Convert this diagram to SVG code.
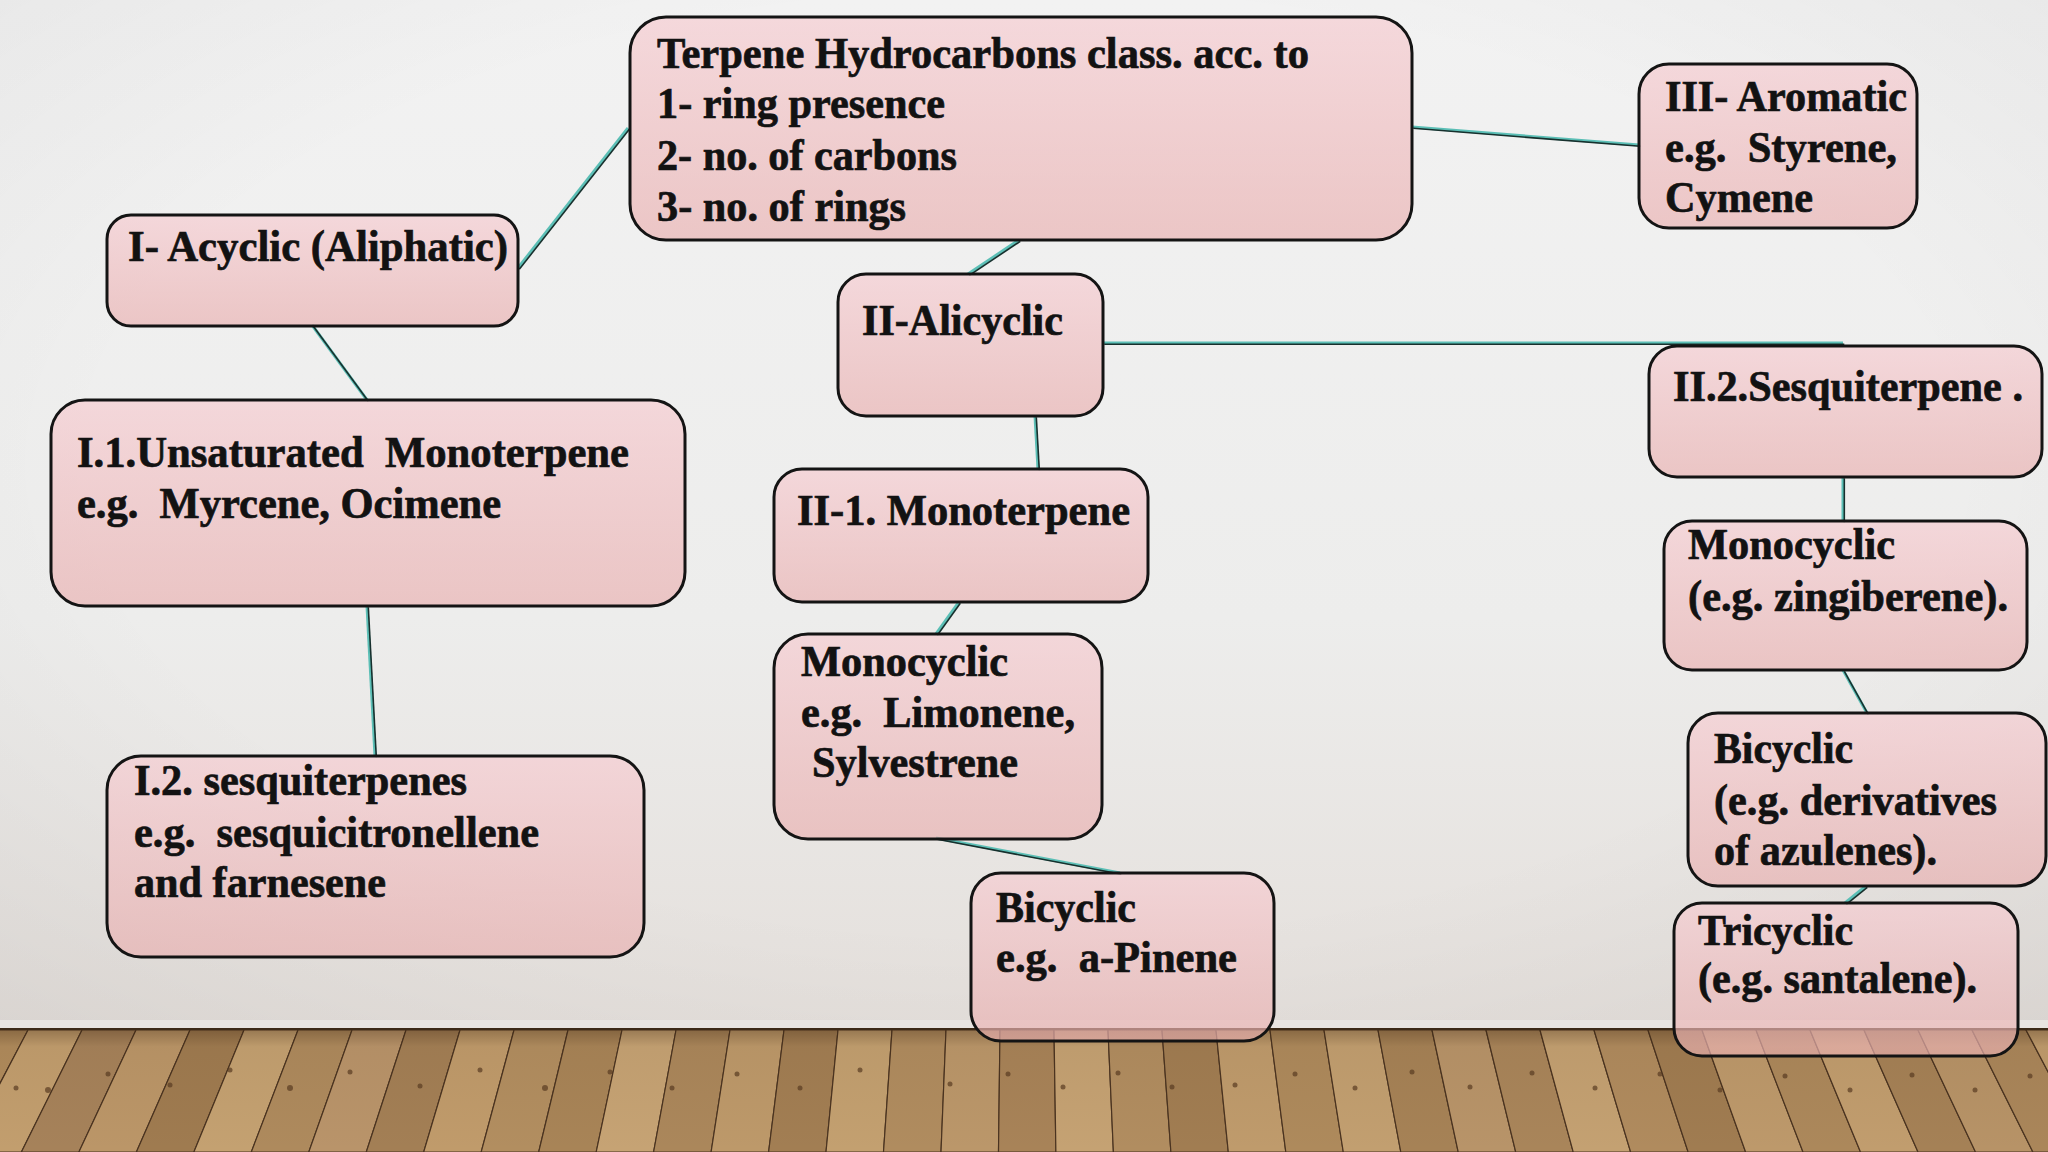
<svg xmlns="http://www.w3.org/2000/svg" xmlns:xlink="http://www.w3.org/1999/xlink" width="2048" height="1152" viewBox="0 0 2048 1152">
<defs>
<linearGradient id="wall" x1="0" y1="0" x2="0" y2="1">
<stop offset="0" stop-color="#f2f2f2"/>
<stop offset="0.6" stop-color="#ededec"/>
<stop offset="1" stop-color="#e4dfdb"/>
</linearGradient>
<radialGradient id="vign" cx="0.5" cy="0.45" r="0.75">
<stop offset="0.6" stop-color="#000" stop-opacity="0"/>
<stop offset="1" stop-color="#000" stop-opacity="0.05"/>
</radialGradient>
<linearGradient id="boxfill" x1="0" y1="0" x2="0" y2="1">
<stop offset="0" stop-color="#f6ccd1" stop-opacity="0.68"/>
<stop offset="1" stop-color="#e9b0b0" stop-opacity="0.66"/>
</linearGradient>
<linearGradient id="floorshade" x1="0" y1="0" x2="0" y2="1">
<stop offset="0" stop-color="#3a2410" stop-opacity="0.35"/>
<stop offset="0.15" stop-color="#3a2410" stop-opacity="0.05"/>
<stop offset="1" stop-color="#3a2410" stop-opacity="0"/>
</linearGradient>
<path id="c1" d="M628,128 L518,268"/>
<path id="c2" d="M1412,127 L1639,145"/>
<path id="c3" d="M1019,240 L968,274"/>
<path id="c4" d="M312,325 L367,400"/>
<path id="c5" d="M367,606 L375,756"/>
<path id="c6" d="M1035,416 L1038,469"/>
<path id="c7" d="M1103,343 L1843,343"/>
<path id="c8" d="M959,602 L936,634"/>
<path id="c9" d="M936,838 L1120,873"/>
<path id="c10" d="M1843,477 L1843,521"/>
<path id="c11" d="M1843,670 L1867,713"/>
<path id="c12" d="M1866,886 L1845,903"/>
</defs>
<style>
.box{fill:url(#boxfill);stroke:#141414;stroke-width:3}
.t{font-family:"Liberation Serif","Times New Roman",serif;font-weight:bold;font-size:44px;fill:#121212;stroke:#121212;stroke-width:0.7;white-space:pre}
.teal{fill:none;stroke:#5cbfb6;stroke-width:3}
.dark{fill:none;stroke:#17302d;stroke-width:1.6}
.plank{stroke:#4a3320;stroke-width:1.2}
.knot{fill:#5a3c22;opacity:0.7}
</style>

<!-- background wall -->
<rect x="0" y="0" width="2048" height="1030" fill="url(#wall)"/>
<rect x="0" y="0" width="2048" height="1030" fill="url(#vign)"/>
<rect x="0" y="1020" width="2048" height="8" fill="#e8e4e1"/>

<!-- floor -->
<g id="floor">
<rect x="0" y="1028" width="2048" height="124" fill="#ad8a5e"/>
<polygon class="plank" fill="#b08b5c" points="-26,1030 28,1030 -36,1152 -93.5,1152"/>
<polygon class="plank" fill="#c29e6e" points="28,1030 82,1030 21.4,1152 -36,1152"/>
<polygon class="plank" fill="#a6825a" points="82,1030 136,1030 78.9,1152 21.4,1152"/>
<polygon class="plank" fill="#bb9668" points="136,1030 190,1030 136.4,1152 78.9,1152"/>
<polygon class="plank" fill="#9f7b50" points="190,1030 244,1030 193.9,1152 136.4,1152"/>
<polygon class="plank" fill="#c4a171" points="244,1030 298,1030 251.3,1152 193.9,1152"/>
<polygon class="plank" fill="#ae8a5d" points="298,1030 352,1030 308.8,1152 251.3,1152"/>
<polygon class="plank" fill="#b9946a" points="352,1030 406,1030 366.3,1152 308.8,1152"/>
<polygon class="plank" fill="#a37f55" points="406,1030 460,1030 423.7,1152 366.3,1152"/>
<polygon class="plank" fill="#c09b6b" points="460,1030 514,1030 481.2,1152 423.7,1152"/>
<polygon class="plank" fill="#b28e60" points="514,1030 568,1030 538.7,1152 481.2,1152"/>
<polygon class="plank" fill="#a88457" points="568,1030 622,1030 596.2,1152 538.7,1152"/>
<polygon class="plank" fill="#c6a374" points="622,1030 676,1030 653.6,1152 596.2,1152"/>
<polygon class="plank" fill="#ab875b" points="676,1030 730,1030 711.1,1152 653.6,1152"/>
<polygon class="plank" fill="#bd996a" points="730,1030 784,1030 768.6,1152 711.1,1152"/>
<polygon class="plank" fill="#a27e53" points="784,1030 838,1030 826,1152 768.6,1152"/>
<polygon class="plank" fill="#c3a070" points="838,1030 892,1030 883.5,1152 826,1152"/>
<polygon class="plank" fill="#b08c5f" points="892,1030 946,1030 941,1152 883.5,1152"/>
<polygon class="plank" fill="#bb976a" points="946,1030 1000,1030 998.5,1152 941,1152"/>
<polygon class="plank" fill="#a88358" points="1000,1030 1054,1030 1055.9,1152 998.5,1152"/>
<polygon class="plank" fill="#c5a273" points="1054,1030 1108,1030 1113.4,1152 1055.9,1152"/>
<polygon class="plank" fill="#b18d60" points="1108,1030 1162,1030 1170.9,1152 1113.4,1152"/>
<polygon class="plank" fill="#a17d52" points="1162,1030 1216,1030 1228.3,1152 1170.9,1152"/>
<polygon class="plank" fill="#bf9b6c" points="1216,1030 1270,1030 1285.8,1152 1228.3,1152"/>
<polygon class="plank" fill="#ae8a5c" points="1270,1030 1324,1030 1343.3,1152 1285.8,1152"/>
<polygon class="plank" fill="#c29f70" points="1324,1030 1378,1030 1400.8,1152 1343.3,1152"/>
<polygon class="plank" fill="#a68256" points="1378,1030 1432,1030 1458.2,1152 1400.8,1152"/>
<polygon class="plank" fill="#b89469" points="1432,1030 1486,1030 1515.7,1152 1458.2,1152"/>
<polygon class="plank" fill="#a9855a" points="1486,1030 1540,1030 1573.2,1152 1515.7,1152"/>
<polygon class="plank" fill="#c4a172" points="1540,1030 1594,1030 1630.6,1152 1573.2,1152"/>
<polygon class="plank" fill="#b08b5e" points="1594,1030 1648,1030 1688.1,1152 1630.6,1152"/>
<polygon class="plank" fill="#a07c51" points="1648,1030 1702,1030 1745.6,1152 1688.1,1152"/>
<polygon class="plank" fill="#bd996b" points="1702,1030 1756,1030 1803,1152 1745.6,1152"/>
<polygon class="plank" fill="#ac885b" points="1756,1030 1810,1030 1860.5,1152 1803,1152"/>
<polygon class="plank" fill="#c19d6e" points="1810,1030 1864,1030 1918,1152 1860.5,1152"/>
<polygon class="plank" fill="#a58156" points="1864,1030 1918,1030 1975.5,1152 1918,1152"/>
<polygon class="plank" fill="#b79367" points="1918,1030 1972,1030 2032.9,1152 1975.5,1152"/>
<polygon class="plank" fill="#aa865a" points="1972,1030 2026,1030 2090.4,1152 2032.9,1152"/>
<polygon class="plank" fill="#c09c6d" points="2026,1030 2080,1030 2147.9,1152 2090.4,1152"/>
<g>
<circle class="knot" cx="16" cy="1088" r="2.5"/><circle class="knot" cx="48" cy="1090" r="3"/>
<circle class="knot" cx="108" cy="1074" r="2.5"/><circle class="knot" cx="170" cy="1085" r="2.5"/>
<circle class="knot" cx="230" cy="1070" r="2.5"/><circle class="knot" cx="290" cy="1088" r="3"/>
<circle class="knot" cx="350" cy="1072" r="2.5"/><circle class="knot" cx="420" cy="1086" r="2.5"/>
<circle class="knot" cx="480" cy="1070" r="2.5"/><circle class="knot" cx="545" cy="1088" r="3"/>
<circle class="knot" cx="610" cy="1072" r="2.5"/><circle class="knot" cx="672" cy="1088" r="2.5"/>
<circle class="knot" cx="737" cy="1074" r="2.5"/><circle class="knot" cx="800" cy="1088" r="2.5"/>
<circle class="knot" cx="860" cy="1070" r="2.5"/><circle class="knot" cx="950" cy="1084" r="2.5"/>
<circle class="knot" cx="1008" cy="1074" r="2.5"/><circle class="knot" cx="1063" cy="1087" r="2.5"/>
<circle class="knot" cx="1118" cy="1073" r="2.5"/><circle class="knot" cx="1172" cy="1087" r="2.5"/>
<circle class="knot" cx="1235" cy="1085" r="2.5"/><circle class="knot" cx="1295" cy="1074" r="2.5"/>
<circle class="knot" cx="1355" cy="1088" r="2.5"/><circle class="knot" cx="1412" cy="1072" r="2.5"/>
<circle class="knot" cx="1470" cy="1087" r="2.5"/><circle class="knot" cx="1532" cy="1073" r="2.5"/>
<circle class="knot" cx="1595" cy="1088" r="2.5"/><circle class="knot" cx="1660" cy="1074" r="2.5"/>
<circle class="knot" cx="1720" cy="1090" r="2.5"/><circle class="knot" cx="1785" cy="1076" r="2.5"/>
<circle class="knot" cx="1850" cy="1090" r="2.5"/><circle class="knot" cx="1912" cy="1075" r="2.5"/>
<circle class="knot" cx="1975" cy="1090" r="2.5"/><circle class="knot" cx="2030" cy="1076" r="2.5"/>
</g>
<rect x="0" y="1028" width="2048" height="124" fill="url(#floorshade)"/>
<line x1="0" y1="1029" x2="2048" y2="1029" stroke="#3c2a18" stroke-width="2"/>
</g>

<!-- connectors -->
<g id="connectors">
<g class="teal">
<use xlink:href="#c1"/><use xlink:href="#c2"/><use xlink:href="#c3"/><use xlink:href="#c4"/>
<use xlink:href="#c5"/><use xlink:href="#c6"/><use xlink:href="#c7"/><use xlink:href="#c8"/>
<use xlink:href="#c9"/><use xlink:href="#c10"/><use xlink:href="#c11"/><use xlink:href="#c12"/>
</g>
<g class="dark" transform="translate(1.3,1.3)">
<use xlink:href="#c1"/><use xlink:href="#c2"/><use xlink:href="#c3"/><use xlink:href="#c4"/>
<use xlink:href="#c5"/><use xlink:href="#c6"/><use xlink:href="#c7"/><use xlink:href="#c8"/>
<use xlink:href="#c9"/><use xlink:href="#c10"/><use xlink:href="#c11"/><use xlink:href="#c12"/>
</g>
</g>

<!-- nodes -->
<g id="root">
<rect class="box" x="630" y="17" width="782" height="223" rx="36"/>
<text class="t" x="657" y="68" textLength="652" lengthAdjust="spacingAndGlyphs">Terpene Hydrocarbons class. acc. to</text>
<text class="t" x="657" y="118" textLength="288" lengthAdjust="spacingAndGlyphs">1- ring presence</text>
<text class="t" x="657" y="170" textLength="300" lengthAdjust="spacingAndGlyphs">2- no. of carbons</text>
<text class="t" x="657" y="221" textLength="249" lengthAdjust="spacingAndGlyphs">3- no. of rings</text>
</g>

<g id="aromatic">
<rect class="box" x="1639" y="64" width="278" height="164" rx="30"/>
<text class="t" x="1665" y="111" textLength="242" lengthAdjust="spacingAndGlyphs">III- Aromatic</text>
<text class="t" x="1665" y="162" textLength="232" lengthAdjust="spacingAndGlyphs">e.g.  Styrene,</text>
<text class="t" x="1665" y="212" textLength="148" lengthAdjust="spacingAndGlyphs">Cymene</text>
</g>

<g id="acyclic">
<rect class="box" x="107" y="215" width="411" height="111" rx="24"/>
<text class="t" x="128" y="261" textLength="380" lengthAdjust="spacingAndGlyphs">I- Acyclic (Aliphatic)</text>
</g>

<g id="alicyclic">
<rect class="box" x="838" y="274" width="265" height="142" rx="28"/>
<text class="t" x="862" y="335" textLength="201" lengthAdjust="spacingAndGlyphs">II-Alicyclic</text>
</g>

<g id="sesquiterpene">
<rect class="box" x="1649" y="346" width="393" height="131" rx="28"/>
<text class="t" x="1673" y="401" textLength="350" lengthAdjust="spacingAndGlyphs">II.2.Sesquiterpene .</text>
</g>

<g id="unsaturated-monoterpene">
<rect class="box" x="51" y="400" width="634" height="206" rx="34"/>
<text class="t" x="77" y="467" textLength="552" lengthAdjust="spacingAndGlyphs">I.1.Unsaturated  Monoterpene</text>
<text class="t" x="77" y="518" textLength="424" lengthAdjust="spacingAndGlyphs">e.g.  Myrcene, Ocimene</text>
</g>

<g id="monoterpene">
<rect class="box" x="774" y="469" width="374" height="133" rx="28"/>
<text class="t" x="797" y="525" textLength="333" lengthAdjust="spacingAndGlyphs">II-1. Monoterpene</text>
</g>

<g id="sesqui-monocyclic">
<rect class="box" x="1664" y="521" width="363" height="149" rx="28"/>
<text class="t" x="1688" y="559" textLength="207" lengthAdjust="spacingAndGlyphs">Monocyclic</text>
<text class="t" x="1688" y="611" textLength="320" lengthAdjust="spacingAndGlyphs">(e.g. zingiberene).</text>
</g>

<g id="mono-monocyclic">
<rect class="box" x="774" y="634" width="328" height="205" rx="34"/>
<text class="t" x="801" y="676" textLength="207" lengthAdjust="spacingAndGlyphs">Monocyclic</text>
<text class="t" x="801" y="727" textLength="274" lengthAdjust="spacingAndGlyphs">e.g.  Limonene,</text>
<text class="t" x="812" y="777" textLength="206" lengthAdjust="spacingAndGlyphs">Sylvestrene</text>
</g>

<g id="sesquiterpenes">
<rect class="box" x="107" y="756" width="537" height="201" rx="34"/>
<text class="t" x="134" y="795" textLength="333" lengthAdjust="spacingAndGlyphs">I.2. sesquiterpenes</text>
<text class="t" x="134" y="847" textLength="405" lengthAdjust="spacingAndGlyphs">e.g.  sesquicitronellene</text>
<text class="t" x="134" y="897" textLength="252" lengthAdjust="spacingAndGlyphs">and farnesene</text>
</g>

<g id="sesqui-bicyclic">
<rect class="box" x="1688" y="713" width="358" height="173" rx="30"/>
<text class="t" x="1714" y="763" textLength="139" lengthAdjust="spacingAndGlyphs">Bicyclic</text>
<text class="t" x="1714" y="815" textLength="283" lengthAdjust="spacingAndGlyphs">(e.g. derivatives</text>
<text class="t" x="1714" y="865" textLength="223" lengthAdjust="spacingAndGlyphs">of azulenes).</text>
</g>

<g id="mono-bicyclic">
<rect class="box" x="971" y="873" width="303" height="168" rx="30"/>
<text class="t" x="996" y="922" textLength="140" lengthAdjust="spacingAndGlyphs">Bicyclic</text>
<text class="t" x="996" y="972" textLength="241" lengthAdjust="spacingAndGlyphs">e.g.  a-Pinene</text>
</g>

<g id="tricyclic">
<rect class="box" x="1674" y="903" width="344" height="153" rx="28"/>
<text class="t" x="1698" y="945" textLength="155" lengthAdjust="spacingAndGlyphs">Tricyclic</text>
<text class="t" x="1698" y="993" textLength="279" lengthAdjust="spacingAndGlyphs">(e.g. santalene).</text>
</g>
</svg>
